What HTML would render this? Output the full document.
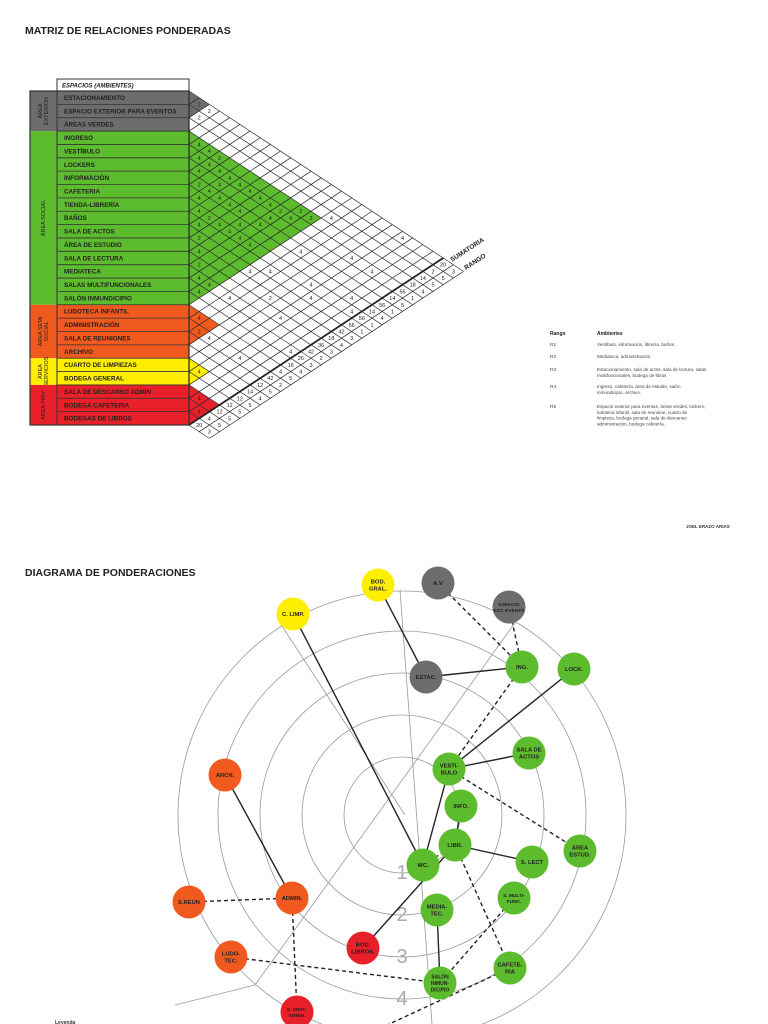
<!DOCTYPE html>
<html><head><meta charset="utf-8"><style>
html,body{margin:0;padding:0;background:#fff;}
svg{display:block;font-family:"Liberation Sans",sans-serif;}
</style></head><body>
<svg id="s" width="768" height="1024" viewBox="0 0 768 1024" xmlns="http://www.w3.org/2000/svg">
<text x="25" y="34" font-size="10.5" font-weight="bold" fill="#222">MATRIZ DE RELACIONES PONDERADAS</text>
<text x="25" y="576" font-size="10.5" font-weight="bold" fill="#222">DIAGRAMA DE PONDERACIONES</text>
<text x="686" y="528" font-size="4.5" font-weight="bold" fill="#333">JOEL ERAZO ARIAS</text>
<text x="55" y="1024" font-size="5" font-weight="bold" fill="#333">Leyenda</text>
<g id="matrix"></g>
<g id="legend"></g>
<g id="diagram"></g>
</svg>
<script>
const rowLabels=["ESTACIONAMIENTO","ESPACIO EXTERIOR PARA EVENTOS","ÁREAS VERDES","INGRESO","VESTÍBULO","LOCKERS","INFORMACIÓN","CAFETERIA","TIENDA-LIBRERÍA","BAÑOS","SALA DE ACTOS","ÁREA DE ESTUDIO","SALA DE LECTURA","MEDIATECA","SALAS MULTIFUNCIONALES","SALÓN INMUNDICIPIO","LUDOTECA INFANTIL","ADMINISTRACIÓN","SALA DE REUNIONES","ARCHIVO","CUARTO DE LIMPIEZAS","BODEGA GENERAL","SALA DE DESCANSO ADMIN","BODEGA CAFETERIA","BODEGAS DE LIBROS"];
const groups=[["ÁREA|EXTERIOR",0,3,"#6d6d6d",0,2],["ÁREA SOCIAL",3,16,"#5dbb2e",3,16],["ÁREA SEMI|SOCIAL",16,20,"#f05a1e",16,19],["ÁREA|SERVICIOS",20,22,"#ffee00",20,22],["ÁREA PRIV.",22,25,"#e8202a",22,25]];
const relations=[[0,1,2],[0,2,2],[1,2,2],[3,4,4],[3,5,4],[4,5,4],[4,6,4],[3,6,2],[5,6,4],[4,7,4],[6,7,2],[6,8,4],[4,8,4],[5,8,4],[7,8,4],[4,9,4],[6,9,4],[8,9,4],[4,10,4],[6,10,4],[8,10,2],[9,10,4],[4,11,4],[6,11,4],[8,11,4],[10,11,2],[4,12,4],[8,12,4],[11,12,4],[4,13,2],[6,13,4],[8,13,4],[12,13,2],[4,14,4],[8,14,4],[13,14,4],[3,15,2],[13,15,4],[14,15,4],[3,14,2],[5,13,4],[7,12,4],[0,21,4],[2,16,4],[4,22,4],[6,17,4],[8,24,4],[9,17,4],[13,17,4],[11,19,2],[4,20,4],[7,23,4],[10,16,4],[16,17,4],[17,18,2],[17,19,4],[17,22,4],[20,21,4],[12,21,4],[14,24,4],[23,24,4],[22,23,4],[8,20,4],[9,21,4]];
const sums=[20,2,14,18,56,14,56,14,56,56,42,18,36,42,26,16,4,42,12,14,12,12,12,4,20];
const ranks=[3,5,5,4,1,5,1,4,1,1,3,4,3,2,3,4,5,2,5,4,5,5,5,5,3];
const NS="http://www.w3.org/2000/svg";
function mk(t,a,p){const e=document.createElementNS(NS,t);for(const k in a)e.setAttribute(k,a[k]);p.appendChild(e);return e;}
const M=document.getElementById('matrix');
const X0=189,B0=91,H=13.36,S=0.657;
const b=k=>B0+k*H;
const cx=(ci,cj)=>X0+(cj-ci)/(2*S);
// header
let hd=mk('rect',{x:57,y:79,width:132,height:12,fill:'#fff',stroke:'#333','stroke-width':1},M);

let ht=mk('text',{x:62,y:87.5,'font-size':6,'font-style':'italic','font-weight':'bold',fill:'#222'},M);ht.textContent='ESPACIOS (AMBIENTES)';
// groups
groups.forEach(g=>{
 let r=mk('rect',{x:30,y:b(g[1]),width:159,height:b(g[2])-b(g[1]),fill:g[3]},M);
 
 let t0=b(g[4]),t1=b(g[5]);
 if(g[5]>g[4]){let p=mk('polygon',{points:`${X0},${t0} ${X0},${t1} ${cx(t0,t1)},${(t0+t1)/2}`,fill:g[3]},M);
 }
 const parts=g[0].split('|');const my=(b(g[1])+b(g[2]))/2;
 parts.forEach((s,i)=>{let tx=43.5+(i-(parts.length-1)/2)*6;
  let t=mk('text',{x:tx,y:my,'font-size':5.5,'text-anchor':'middle',fill:'#222',transform:`rotate(-90 ${tx} ${my})`,'dominant-baseline':'middle'},M);t.textContent=s;
  });
});
mk('rect',{x:30,y:B0,width:159,height:25*H,fill:'none',stroke:'#333','stroke-width':1.2},M);
mk('line',{x1:57,y1:B0,x2:57,y2:b(25),stroke:'#333','stroke-width':1},M);
rowLabels.forEach((l,i)=>{
 mk('line',{x1:57,y1:b(i),x2:189,y2:b(i),stroke:'#333','stroke-width':0.8},M);
 let t=mk('text',{x:64,y:b(i)+H/2+2.3,'font-size':6.3,'font-weight':'bold',fill:'#222'},M);t.textContent=l;
 
});
// lattice
for(let k=0;k<=25;k++){const y=b(k),xe=X0+(b(27)-y)/(2*S);
 mk('line',{x1:X0,y1:y,x2:xe,y2:y+S*(xe-X0),stroke:'#333','stroke-width':0.7},M);}
for(let k=1;k<=27;k++){const y=b(k);const xs=Math.max(X0,X0+(y-b(25))/(2*S)),xe=X0+(y-B0)/(2*S);
 mk('line',{x1:xs,y1:y-S*(xs-X0),x2:xe,y2:y-S*(xe-X0),stroke:'#222','stroke-width':k==25?1.8:0.7},M);}
mk('line',{x1:X0,y1:B0,x2:X0,y2:b(25),stroke:'#333','stroke-width':1.2},M);
function cellText(i,j,v,name){const ci=b(i)+H/2,cj=b(j)+H/2;
 let t=mk('text',{x:cx(ci,cj),y:(ci+cj)/2+2,'font-size':5.5,'text-anchor':'middle',fill:'#222'},M);t.textContent=v;
 }
relations.forEach(r=>cellText(Math.min(r[0],r[1]),Math.max(r[0],r[1]),r[2],'relation-value'));
sums.forEach((v,i)=>cellText(i,25,v,'sum-value'));
ranks.forEach((v,i)=>cellText(i,26,v,'rank-value'));
[['SUMATORIA',452,262],['RANGO',466,270]].forEach(a=>{let t=mk('text',{x:a[1],y:a[2],'font-size':6.5,'font-weight':'bold',fill:'#222',transform:`rotate(-33 ${a[1]} ${a[2]})`},M);t.textContent=a[0];
 });
// legend
const L=document.getElementById('legend');
const legRanks=["R1","R2","R3","R4","R5"];
const legTexts=[["Vestíbulo, información, librería, baños."],["Mediateca, administración."],["Estacionamiento, sala de actos, sala de lectura, salas","multifuncionales, bodega de libros"],["Ingreso, cafetería, área de estudio, salón","inmundicipio, archivo."],["Espacio exterior para eventos, áreas verdes, lockers,","ludoteca infantil, sala de reunione, cuarto de","limpieza, bodega general, sala de descanso","administración, bodega cafetería."]];
const legY=[346,358,371,388,408];
let t=mk('text',{x:550,y:335,'font-size':5,'font-weight':'bold',fill:'#222'},L);t.textContent='Rango';
t=mk('text',{x:597,y:335,'font-size':5,'font-weight':'bold',fill:'#222'},L);t.textContent='Ambientes';
legRanks.forEach((r,i)=>{let a=mk('text',{x:550,y:legY[i],'font-size':4.8,fill:'#444'},L);a.textContent=r;
 
 legTexts[i].forEach((s,j)=>{let c=mk('text',{x:597,y:legY[i]+j*5.8,'font-size':4.6,fill:'#444'},L);c.textContent=s;
 });});
// diagram
const D=document.getElementById('diagram');
const CX=402,CY=815;const radii=[58,100,142,184,224];
radii.forEach((r,i)=>{let c=mk('circle',{cx:CX,cy:CY,r:r,fill:'none',stroke:'#999','stroke-width':0.8},D);
 
 if(i<4){let n=mk('text',{x:CX,y:CY+r+6,'font-size':20,'text-anchor':'middle',fill:'#aaa'},D);n.textContent=i+1;
 }});
[[400,590,432,1024],[517,620,255,985],[280,623,405,815],[255,985,175,1005]].forEach(l=>{mk('line',{x1:l[0],y1:l[1],x2:l[2],y2:l[3],stroke:'#999','stroke-width':0.8},D);});
const nodeNames=["BOD.|GRAL.","A.V","ESPACIO|EXT. EVENTS","C. LIMP.","ESTAC.","ING.","LOCK.","SALA DE|ACTOS","VESTI-|BULO","INFO.","ARCH.","ÁREA|ESTUD.","LIBR.","WC.","S. LECT","S. MULTI-|FUNC.","MEDIA-|TEC.","S.REUN","ADMIN.","BOD.|LIBROS.","LUDO-|TEC.","CAFETE-|RIA","SALÓN|INMUN-|DICIPIO","S. DESC.|ADMIN."];
const nodeX=[378,438,509,293,426,522,574,529,449,461,225,580,455,423,532,514,437,189,292,363,231,510,440,297];
const nodeY=[585,583,607,614,677,667,669,753,769,806,775,851,845,865,862,898,910,902,898,948,957,968,983,1012];
const nodeColors=["#ffee00","#6d6d6d","#6d6d6d","#ffee00","#6d6d6d","#5dbb2e","#5dbb2e","#5dbb2e","#5dbb2e","#5dbb2e","#f05a1e","#5dbb2e","#5dbb2e","#5dbb2e","#5dbb2e","#5dbb2e","#5dbb2e","#f05a1e","#f05a1e","#e8202a","#f05a1e","#5dbb2e","#5dbb2e","#e8202a"];
const solidEdges=[[0,4],[4,5],[6,8],[8,7],[8,13],[3,13],[9,12],[12,14],[12,19],[16,22],[10,18]];
const dashedEdges=[[1,5],[2,5],[5,8],[8,11],[12,21],[13,12],[15,22],[17,18],[18,23],[20,22],[21,-1]];
solidEdges.forEach(e=>{let l=mk('line',{x1:nodeX[e[0]],y1:nodeY[e[0]],x2:nodeX[e[1]],y2:nodeY[e[1]],stroke:'#222','stroke-width':1.4},D);
 });
dashedEdges.forEach(e=>{const x2=e[1]<0?385:nodeX[e[1]],y2=e[1]<0?1026:nodeY[e[1]];
 let l=mk('line',{x1:nodeX[e[0]],y1:nodeY[e[0]],x2:x2,y2:y2,stroke:'#222','stroke-width':1.4,'stroke-dasharray':'4 3'},D);
 });
nodeNames.forEach((n,i)=>{let c=mk('circle',{cx:nodeX[i],cy:nodeY[i],r:16.5,fill:nodeColors[i]},D);
 
 const parts=n.split('|');const fs=parts.length>2?5:(n.length>14?4.8:5.8);
 parts.forEach((p,j)=>{let t=mk('text',{x:nodeX[i],y:nodeY[i]+2+(j-(parts.length-1)/2)*(fs+1.5),'font-size':fs,'font-weight':'bold','text-anchor':'middle',fill:'#222'},D);t.textContent=p;
 });});
</script>
</body></html>
